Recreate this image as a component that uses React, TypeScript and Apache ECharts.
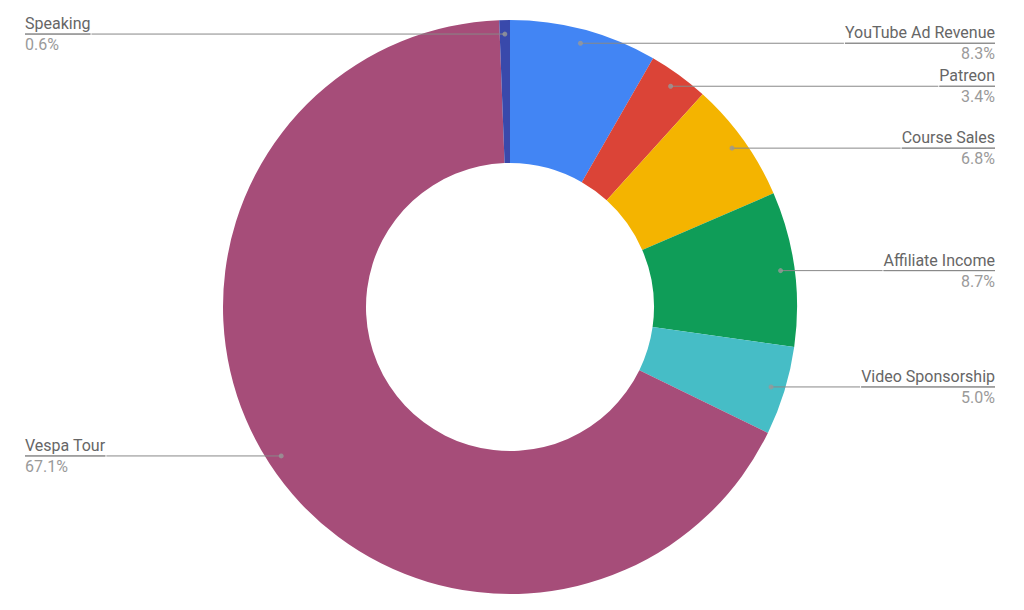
import { useEffect, useRef } from 'react';
import * as echarts from 'echarts';

// income sources, clockwise from 12 o'clock
const sources = [
  'YouTube Ad Revenue',
  'Patreon',
  'Course Sales',
  'Affiliate Income',
  'Video Sponsorship',
  'Vespa Tour',
  'Speaking',
];
const shares = [8.3, 3.4, 6.8, 8.7, 5.0, 67.1, 0.6];
const colors = ['#4285F4', '#DB4437', '#F4B400', '#0F9D58', '#46BDC6', '#A64D79', '#3949AB'];

function App() {
  const chartRef = useRef<HTMLDivElement>(null);

  useEffect(() => {
    if (!chartRef.current) return;

    const total = shares.reduce((a, b) => a + b, 0);
    // mid-angle of each slice (as share of total) for the little dots
    let acc = 0;
    const dots = shares.map((v) => {
      const mid = acc + v / 2;
      acc += v;
      return [273, (mid / total) * 100];
    });

    const pieData = sources.map((name, i) => ({
      name,
      value: shares[i],
      itemStyle: { color: colors[i] },
    }));

    const option: echarts.EChartsOption = {
      animation: false,
      textStyle: { fontFamily: 'Roboto' },
      polar: { center: [510, 307], radius: 287 },
      angleAxis: {
        type: 'value',
        min: 0,
        max: 100,
        startAngle: 90,
        clockwise: true,
        show: false,
      },
      radiusAxis: { type: 'value', min: 0, max: 287, show: false },
      series: [
        {
          type: 'pie',
          center: [510, 307],
          radius: [144, 287],
          startAngle: 90,
          silent: true,
          z: 1,
          label: { show: false },
          labelLine: { show: false },
          data: pieData,
        },
        {
          // transparent copy, only used to place labels and leader lines
          type: 'pie',
          center: [510, 307],
          radius: [0, 273],
          startAngle: 90,
          silent: true,
          z: 4,
          itemStyle: { color: 'transparent' },
          data: sources.map((name, i) => ({ name, value: shares[i] })),
          label: {
            show: true,
            position: 'outside',
            alignTo: 'edge',
            edgeDistance: 25,
            distanceToLabelLine: 0,
            formatter: (p: any) => `{n|${p.name}}\n{hr|}\n{p|${p.value.toFixed(1)}%}`,
            rich: {
              n: { fontSize: 16, color: '#666', fontFamily: 'Roboto', lineHeight: 21 },
              hr: { width: '100%', height: 0, borderWidth: 1, borderColor: '#888' },
              p: { fontSize: 16, color: '#9a9a9a', fontFamily: 'Roboto', lineHeight: 21 },
            },
          },
          labelLine: {
            show: true,
            length: 0,
            length2: 10,
            lineStyle: { color: '#888', width: 1 },
          },
        },
        {
          type: 'scatter',
          coordinateSystem: 'polar',
          symbolSize: 5,
          silent: true,
          itemStyle: { color: '#999' },
          data: dots,
          z: 5,
        },
      ],
    };

    const chart = echarts.init(chartRef.current, null, { renderer: 'svg' });
    chart.setOption(option);

    return () => {
      chart.dispose();
    };
  }, []);

  return (
    <div
      ref={chartRef}
      style={{ position: 'absolute', left: 0, top: 0, width: '1020px', height: '610px' }}
    />
  );
}

export default App;
